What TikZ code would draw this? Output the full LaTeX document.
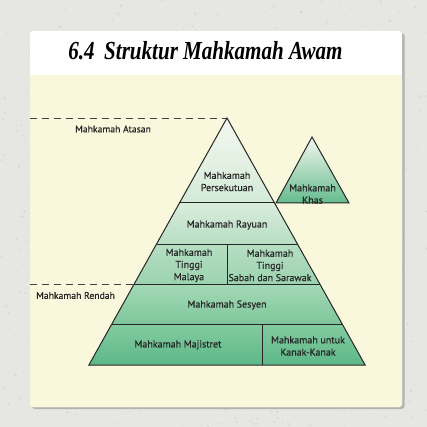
\documentclass[tikz,border=0pt]{standalone}
\usepackage{fontspec}
\setmainfont{PT Sans}
\newfontfamily\courtfont[FakeBold=0.5]{PT Sans}
\newfontfamily\titlefont{Liberation Serif}
\definecolor{bgc}{HTML}{E6E6E3}
\definecolor{cream}{HTML}{F9F8DC}
\definecolor{edge}{HTML}{262626}
\definecolor{gA}{HTML}{F4F7EF}
\definecolor{gB}{HTML}{D3EAD7}
\definecolor{gC}{HTML}{B6DEC3}
\definecolor{gD}{HTML}{9BD3AE}
\definecolor{gE}{HTML}{A4D9B6}
\definecolor{gF}{HTML}{7EC69B}
\definecolor{gG}{HTML}{84CBA0}
\definecolor{gH}{HTML}{5CB888}
\tikzset{
  band/.style={draw=edge, line width=1pt, line join=miter},
  court/.style={font=\courtfont\fontsize{10}{12.2}\selectfont, text=black!85, align=center, inner sep=0pt},
  tier/.style={font=\courtfont\fontsize{9.7}{11}\selectfont, text=black!85, anchor=west, inner sep=0pt},
  tierline/.style={draw=black!75, line width=0.9pt, dash pattern=on 7pt off 5pt}
}
\begin{document}
\begin{tikzpicture}[x=1pt,y=-1pt]
\useasboundingbox (0,0) rectangle (427,427);
\fill[bgc] (0,0) rectangle (427,427);
% speckled paper texture
\pgfmathsetseed{7}
\foreach \i in {1,...,700}{
  \pgfmathsetmacro{\px}{rnd*427}
  \pgfmathsetmacro{\py}{rnd*427}
  \pgfmathsetmacro{\ps}{0.4+rnd*0.8}
  \fill[black!22, opacity=0.55] (\px,\py) circle[radius=\ps];
}
% card shadow
\fill[black!30, rounded corners=3pt] (32,33) rectangle (404.5,409);
% card
\fill[white, rounded corners=3pt] (30,31) rectangle (402,407);
\fill[cream, rounded corners=3pt] (30,75) rectangle (402,407);
\fill[cream] (30,75) rectangle (402,85);
% title
\node[anchor=base, xscale=0.81, inner sep=0pt, font=\titlefont\bfseries\itshape\fontsize{26}{30}\selectfont] (title) at (205.5,60) {6.4\hspace{0.45em}Struktur Mahkamah Awam};
% coordinates
\coordinate (apex) at (227,118);
\coordinate (L1) at (179.5,203); \coordinate (R1) at (274.5,203);
\coordinate (L2) at (156.6,244); \coordinate (R2) at (297.4,244);
\coordinate (L3) at (133.8,284.7); \coordinate (R3) at (320.2,284.7);
\coordinate (L4) at (111.8,324); \coordinate (R4) at (342.2,324);
\coordinate (L5) at (88.9,365); \coordinate (R5) at (365.1,365);
\coordinate (M3t) at (227,244); \coordinate (M3b) at (227,284.7);
\coordinate (M5t) at (262,324); \coordinate (M5b) at (262,365);
\coordinate (kA) at (312,137); \coordinate (kL) at (276,203); \coordinate (kR) at (349,203);
% dashed tier lines
\coordinate (d1) at (30,118); \coordinate (d2) at (30,284.7);
\draw[tierline] (d1) -- (apex);
\draw[tierline] (d2) -- (L3);
% bands
\shade[top color=gA, bottom color=gB] (apex) -- (R1) -- (L1) -- cycle;
\shade[top color=gB!80!gA, bottom color=gC] (L1) -- (R1) -- (R2) -- (L2) -- cycle;
\shade[top color=gC, bottom color=gD] (L2) -- (R2) -- (R3) -- (L3) -- cycle;
\shade[top color=gE, bottom color=gF] (L3) -- (R3) -- (R4) -- (L4) -- cycle;
\shade[top color=gG, bottom color=gH] (L4) -- (R4) -- (R5) -- (L5) -- cycle;
\shade[top color=gA, bottom color=gH!95!white] (kA) -- (kR) -- (kL) -- cycle;
\draw[band] (apex) -- (R5) -- (L5) -- cycle;
\draw[band] (L1) -- (R1); \draw[band] (L2) -- (R2);
\draw[band] (L3) -- (R3); \draw[band] (L4) -- (R4);
\draw[band] (M3t) -- (M3b); \draw[band] (M5t) -- (M5b);
\draw[band] (kA) -- (kR) -- (kL) -- cycle;
% labels
\node[tier] (atasan) at (75,129) {Mahkamah Atasan};
\node[tier] (rendah) at (36,295.5) {Mahkamah Rendah};
\node[court] (persekutuan) at (227,181.5) {Mahkamah\\Persekutuan};
\node[court] (khas) at (312.5,194) {Mahkamah\\Khas};
\node[court] (rayuan) at (227,225) {Mahkamah Rayuan};
\node[court] (malaya) at (189,265.5) {Mahkamah\\Tinggi\\Malaya};
\node[court] (sabah) at (270,265.5) {Mahkamah\\Tinggi\\Sabah dan Sarawak};
\node[court] (sesyen) at (227,305) {Mahkamah Sesyen};
\node[court] (majistret) at (178,345) {Mahkamah Majistret};
\node[court] (kanak) at (308,346) {Mahkamah untuk\\Kanak-Kanak};
\end{tikzpicture}
\end{document}
